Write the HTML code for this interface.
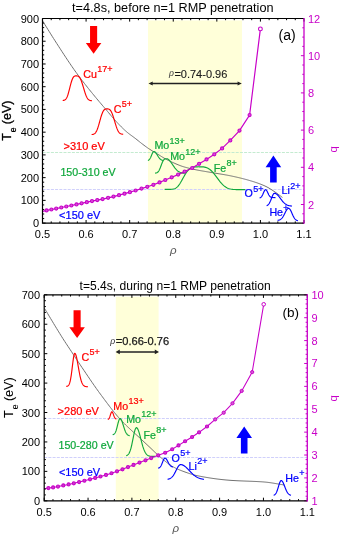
<!DOCTYPE html>
<html><head><meta charset="utf-8"><style>
html,body{margin:0;padding:0;background:#fff;width:342px;height:537px;overflow:hidden}
text{font-family:"Liberation Sans",sans-serif}
</style></head><body>
<svg width="342" height="537" viewBox="0 0 342 537" style="display:block;will-change:transform;font-family:'Liberation Sans',sans-serif">
<rect width="342" height="537" fill="#fff"/>
<rect x="148" y="20.4" width="94" height="202.7" fill="#ffffd9"/>
<path d="M42.5,152.5 H304" stroke="#c4ebd0" stroke-width="1" stroke-dasharray="3,1.2"/>
<path d="M42.5,189.5 H304" stroke="#d0d0fb" stroke-width="1" stroke-dasharray="3,1.2"/>
<path d="M42.5,20.8 L43.6,22.56 L44.7,24.32 L45.8,26.08 L46.9,27.84 L48,29.6 L49.11,31.38 L50.23,33.17 L51.34,34.95 L52.46,36.74 L53.57,38.51 L54.69,40.26 L55.8,42 L56.81,43.57 L57.83,45.14 L58.84,46.71 L59.86,48.28 L60.87,49.84 L61.89,51.41 L62.9,52.96 L63.91,54.52 L64.93,56.06 L65.94,57.6 L66.96,59.13 L67.97,60.66 L68.99,62.17 L70,63.67 L71.01,65.16 L72.03,66.64 L73.04,68.1 L74.06,69.55 L75.07,70.98 L76.09,72.4 L77.1,73.8 L78.13,75.2 L79.16,76.59 L80.19,77.96 L81.22,79.32 L82.25,80.66 L83.28,81.99 L84.31,83.31 L85.34,84.62 L86.36,85.92 L87.39,87.21 L88.42,88.5 L89.45,89.77 L90.48,91.05 L91.51,92.31 L92.54,93.58 L93.57,94.84 L94.6,96.1 L95.69,97.43 L96.78,98.74 L97.87,100.04 L98.96,101.33 L100.05,102.61 L101.14,103.89 L102.23,105.17 L103.32,106.44 L104.41,107.72 L105.5,109 L106.55,110.24 L107.6,111.5 L108.65,112.76 L109.7,114.03 L110.75,115.29 L111.8,116.53 L112.85,117.76 L113.9,118.97 L114.95,120.15 L116,121.3 L117.06,122.43 L118.12,123.56 L119.18,124.67 L120.24,125.76 L121.3,126.84 L122.36,127.89 L123.42,128.91 L124.48,129.91 L125.54,130.87 L126.6,131.8 L127.62,132.65 L128.64,133.47 L129.67,134.25 L130.69,135.01 L131.71,135.76 L132.73,136.51 L133.76,137.26 L134.78,138.02 L135.8,138.8 L136.98,139.73 L138.16,140.68 L139.34,141.63 L140.52,142.58 L141.7,143.5 L142.86,144.39 L144.02,145.27 L145.18,146.14 L146.34,146.98 L147.5,147.8 L148.68,148.6 L149.86,149.37 L151.04,150.12 L152.22,150.86 L153.4,151.6 L154.56,152.31 L155.72,153.01 L156.88,153.71 L158.04,154.4 L159.2,155.1 L160.38,155.83 L161.56,156.57 L162.74,157.31 L163.92,158.02 L165.1,158.7 L166.2,159.3 L167.3,159.87 L168.4,160.43 L169.5,160.97 L170.6,161.5 L171.7,162 L172.76,162.48 L173.83,162.95 L174.89,163.42 L175.95,163.89 L177.02,164.34 L178.08,164.78 L179.15,165.2 L180.21,165.61 L181.27,166 L182.34,166.36 L183.4,166.7 L184.46,167.02 L185.53,167.32 L186.59,167.61 L187.65,167.89 L188.72,168.16 L189.78,168.42 L190.85,168.67 L191.91,168.91 L192.97,169.15 L194.04,169.38 L195.1,169.6 L196.15,169.82 L197.2,170.03 L198.25,170.23 L199.3,170.43 L200.35,170.62 L201.4,170.81 L202.45,170.99 L203.5,171.17 L204.55,171.35 L205.6,171.53 L206.65,171.71 L207.7,171.88 L208.75,172.06 L209.8,172.24 L210.85,172.42 L211.9,172.6 L212.93,172.78 L213.96,172.95 L214.99,173.12 L216.02,173.29 L217.05,173.46 L218.08,173.63 L219.11,173.79 L220.14,173.96 L221.16,174.13 L222.19,174.3 L223.22,174.47 L224.25,174.65 L225.28,174.83 L226.31,175.01 L227.34,175.2 L228.37,175.4 L229.4,175.6 L230.41,175.8 L231.42,176.01 L232.43,176.23 L233.44,176.44 L234.45,176.66 L235.45,176.88 L236.46,177.11 L237.47,177.35 L238.48,177.58 L239.49,177.82 L240.5,178.07 L241.51,178.32 L242.52,178.57 L243.53,178.83 L244.54,179.1 L245.55,179.37 L246.55,179.64 L247.56,179.92 L248.57,180.21 L249.58,180.5 L250.59,180.8 L251.6,181.1 L252.63,181.41 L253.66,181.74 L254.69,182.07 L255.71,182.41 L256.74,182.76 L257.77,183.12 L258.8,183.49 L259.83,183.88 L260.86,184.28 L261.89,184.69 L262.91,185.12 L263.94,185.56 L264.97,186.02 L266,186.5 L267,187 L268,187.54 L269,188.11 L270,188.72 L271,189.35 L272,190 L273,190.66 L274,191.33 L275,192 L276.06,192.72 L277.11,193.48 L278.17,194.25 L279.23,195.04 L280.29,195.83 L281.34,196.62 L282.4,197.4" stroke="#707070" stroke-width="1" fill="none"/>
<g fill="none" stroke-width="1.15">
<path d="M62.7,100.46 L63.04,100.43 L63.37,100.39 L63.71,100.34 L64.04,100.26 L64.38,100.15 L64.71,100 L65.05,99.8 L65.38,99.54 L65.72,99.21 L66.05,98.8 L66.39,98.3 L66.72,97.7 L67.06,96.99 L67.39,96.18 L67.72,95.26 L68.06,94.23 L68.39,93.12 L68.73,91.92 L69.06,90.66 L69.4,89.35 L69.73,88.02 L70.07,86.68 L70.41,85.37 L70.74,84.1 L71.08,82.88 L71.41,81.75 L71.75,80.71 L72.08,79.77 L72.41,78.94 L72.75,78.22 L73.08,77.61 L73.42,77.12 L73.75,76.72 L74.09,76.42 L74.42,76.2 L74.76,76.06 L75.09,75.97 L75.43,75.92 L75.77,75.9 L76.1,75.9 L76.5,75.9 L76.89,75.92 L77.29,75.97 L77.69,76.06 L78.09,76.21 L78.48,76.43 L78.88,76.73 L79.28,77.13 L79.68,77.63 L80.07,78.25 L80.47,78.97 L80.87,79.81 L81.27,80.76 L81.66,81.82 L82.06,82.97 L82.46,84.2 L82.86,85.49 L83.25,86.82 L83.65,88.17 L84.05,89.52 L84.45,90.84 L84.84,92.12 L85.24,93.33 L85.64,94.46 L86.04,95.49 L86.44,96.42 L86.83,97.25 L87.23,97.96 L87.63,98.57 L88.03,99.08 L88.42,99.49 L88.82,99.83 L89.22,100.09 L89.61,100.29 L90.01,100.44 L90.41,100.55 L90.81,100.63 L91.2,100.69 L91.6,100.73 L92,100.76" stroke="#ff0000"/>
<path d="M91.6,134.55 L91.98,134.53 L92.37,134.49 L92.75,134.43 L93.14,134.35 L93.52,134.23 L93.91,134.07 L94.3,133.87 L94.68,133.6 L95.06,133.25 L95.45,132.82 L95.83,132.3 L96.22,131.67 L96.6,130.93 L96.99,130.08 L97.38,129.12 L97.76,128.05 L98.14,126.89 L98.53,125.64 L98.91,124.32 L99.3,122.95 L99.69,121.56 L100.07,120.17 L100.45,118.79 L100.84,117.46 L101.22,116.2 L101.61,115.01 L102,113.92 L102.38,112.94 L102.77,112.07 L103.15,111.32 L103.53,110.69 L103.92,110.17 L104.3,109.76 L104.69,109.44 L105.08,109.22 L105.46,109.06 L105.84,108.97 L106.23,108.92 L106.61,108.9 L107,108.9 L107.41,108.9 L107.81,108.92 L108.22,108.97 L108.62,109.06 L109.03,109.21 L109.43,109.44 L109.83,109.75 L110.24,110.15 L110.64,110.67 L111.05,111.29 L111.45,112.03 L111.86,112.89 L112.27,113.86 L112.67,114.94 L113.08,116.11 L113.48,117.36 L113.89,118.68 L114.29,120.04 L114.7,121.41 L115.1,122.79 L115.5,124.14 L115.91,125.44 L116.31,126.68 L116.72,127.83 L117.12,128.89 L117.53,129.84 L117.94,130.68 L118.34,131.4 L118.75,132.03 L119.15,132.54 L119.56,132.97 L119.96,133.31 L120.37,133.57 L120.77,133.78 L121.17,133.93 L121.58,134.05 L121.98,134.13 L122.39,134.19 L122.8,134.23 L123.2,134.25" stroke="#ff0000"/>
<path d="M147.9,160.48 L148.05,160.43 L148.2,160.36 L148.35,160.28 L148.5,160.2 L148.65,160.1 L148.8,159.99 L148.95,159.87 L149.1,159.73 L149.25,159.58 L149.4,159.41 L149.55,159.23 L149.7,159.02 L149.85,158.81 L150,158.57 L150.15,158.32 L150.3,158.05 L150.45,157.76 L150.6,157.45 L150.75,157.14 L150.9,156.81 L151.05,156.46 L151.2,156.11 L151.35,155.75 L151.5,155.38 L151.65,155.02 L151.8,154.65 L151.95,154.29 L152.1,153.94 L152.25,153.6 L152.4,153.27 L152.55,152.96 L152.7,152.68 L152.85,152.41 L153,152.18 L153.15,151.98 L153.3,151.81 L153.45,151.68 L153.6,151.58 L153.75,151.52 L153.9,151.5 L154.12,151.52 L154.35,151.58 L154.58,151.68 L154.8,151.81 L155.03,151.98 L155.25,152.18 L155.47,152.41 L155.7,152.68 L155.93,152.96 L156.15,153.27 L156.38,153.6 L156.6,153.94 L156.83,154.29 L157.05,154.65 L157.28,155.02 L157.5,155.38 L157.72,155.75 L157.95,156.11 L158.18,156.46 L158.4,156.81 L158.62,157.14 L158.85,157.45 L159.08,157.76 L159.3,158.05 L159.53,158.32 L159.75,158.57 L159.97,158.81 L160.2,159.02 L160.43,159.23 L160.65,159.41 L160.88,159.58 L161.1,159.73 L161.33,159.87 L161.55,159.99 L161.78,160.1 L162,160.2 L162.22,160.28 L162.45,160.36 L162.68,160.43 L162.9,160.48" stroke="#10a83c"/>
<path d="M155,173.07 L155.29,173.06 L155.57,173.03 L155.86,173 L156.15,172.95 L156.44,172.88 L156.72,172.79 L157.01,172.66 L157.3,172.51 L157.59,172.31 L157.88,172.06 L158.16,171.76 L158.45,171.4 L158.74,170.98 L159.03,170.5 L159.31,169.95 L159.6,169.35 L159.89,168.69 L160.18,167.99 L160.46,167.25 L160.75,166.49 L161.04,165.71 L161.32,164.94 L161.61,164.17 L161.9,163.43 L162.19,162.73 L162.47,162.08 L162.76,161.47 L163.05,160.93 L163.34,160.45 L163.62,160.04 L163.91,159.69 L164.2,159.4 L164.49,159.17 L164.78,159 L165.06,158.87 L165.35,158.79 L165.64,158.74 L165.93,158.71 L166.21,158.7 L166.5,158.7 L166.95,158.74 L167.4,158.87 L167.85,159.07 L168.3,159.35 L168.75,159.7 L169.2,160.13 L169.65,160.61 L170.1,161.14 L170.55,161.72 L171,162.33 L171.45,162.97 L171.9,163.63 L172.35,164.3 L172.8,164.97 L173.25,165.64 L173.7,166.3 L174.15,166.93 L174.6,167.55 L175.05,168.14 L175.5,168.7 L175.95,169.22 L176.4,169.71 L176.85,170.16 L177.3,170.57 L177.75,170.95 L178.2,171.29 L178.65,171.6 L179.1,171.87 L179.55,172.11 L180,172.32 L180.45,172.51 L180.9,172.67 L181.35,172.81 L181.8,172.93 L182.25,173.03 L182.7,173.11 L183.15,173.19 L183.6,173.25 L184.05,173.29 L184.5,173.34" stroke="#10a83c"/>
<path d="M164.7,189.4 L165.58,189.4 L166.46,189.4 L167.35,189.4 L168.23,189.4 L169.11,189.39 L170,189.37 L170.88,189.35 L171.76,189.29 L172.64,189.19 L173.52,189.03 L174.41,188.78 L175.29,188.41 L176.17,187.89 L177.06,187.19 L177.94,186.31 L178.82,185.23 L179.7,183.96 L180.58,182.54 L181.47,181 L182.35,179.39 L183.23,177.76 L184.12,176.16 L185,174.63 L185.88,173.21 L186.76,171.93 L187.64,170.81 L188.53,169.86 L189.41,169.06 L190.29,168.42 L191.18,167.92 L192.06,167.54 L192.94,167.27 L193.82,167.07 L194.7,166.95 L195.59,166.87 L196.47,166.83 L197.35,166.81 L198.24,166.8 L199.12,166.8 L200,166.8 L201.13,166.8 L202.26,166.83 L203.4,166.92 L204.53,167.08 L205.66,167.34 L206.8,167.72 L207.93,168.24 L209.06,168.91 L210.19,169.75 L211.32,170.75 L212.46,171.9 L213.59,173.18 L214.72,174.58 L215.86,176.07 L216.99,177.6 L218.12,179.13 L219.25,180.64 L220.38,182.08 L221.52,183.41 L222.65,184.62 L223.78,185.68 L224.92,186.59 L226.05,187.34 L227.18,187.95 L228.31,188.43 L229.44,188.79 L230.58,189.06 L231.71,189.25 L232.84,189.38 L233.98,189.47 L235.11,189.52 L236.24,189.56 L237.37,189.58 L238.5,189.59 L239.64,189.59 L240.77,189.6 L241.9,189.6 L243.04,189.6 L244.17,189.6 L245.3,189.6" stroke="#10a83c"/>
<path d="M259.6,197.98 L259.75,197.93 L259.9,197.88 L260.05,197.82 L260.2,197.76 L260.35,197.68 L260.5,197.59 L260.65,197.49 L260.8,197.38 L260.95,197.25 L261.1,197.11 L261.25,196.95 L261.4,196.78 L261.55,196.59 L261.7,196.38 L261.85,196.15 L262,195.91 L262.15,195.65 L262.3,195.38 L262.45,195.09 L262.6,194.78 L262.75,194.47 L262.9,194.14 L263.05,193.8 L263.2,193.46 L263.35,193.11 L263.5,192.76 L263.65,192.42 L263.8,192.08 L263.95,191.75 L264.1,191.43 L264.25,191.13 L264.4,190.85 L264.55,190.6 L264.7,190.37 L264.85,190.17 L265,190 L265.15,189.87 L265.3,189.78 L265.45,189.72 L265.6,189.7 L265.75,189.72 L265.9,189.77 L266.05,189.86 L266.2,189.98 L266.35,190.14 L266.5,190.32 L266.65,190.53 L266.8,190.77 L266.95,191.03 L267.1,191.31 L267.25,191.6 L267.4,191.91 L267.55,192.22 L267.7,192.55 L267.85,192.87 L268,193.19 L268.15,193.51 L268.3,193.82 L268.45,194.13 L268.6,194.42 L268.75,194.71 L268.9,194.98 L269.05,195.23 L269.2,195.47 L269.35,195.7 L269.5,195.91 L269.65,196.1 L269.8,196.28 L269.95,196.44 L270.1,196.58 L270.25,196.72 L270.4,196.83 L270.55,196.94 L270.7,197.03 L270.85,197.12 L271,197.19 L271.15,197.25 L271.3,197.31 L271.45,197.35 L271.6,197.39 L275.5,197.6" stroke="#0000ff"/>
<path d="M266.6,205.76 L266.8,205.68 L267,205.59 L267.19,205.48 L267.39,205.37 L267.59,205.23 L267.79,205.08 L267.98,204.91 L268.18,204.72 L268.38,204.51 L268.58,204.27 L268.77,204.02 L268.97,203.74 L269.17,203.43 L269.37,203.11 L269.56,202.76 L269.76,202.38 L269.96,201.98 L270.16,201.56 L270.35,201.12 L270.55,200.66 L270.75,200.18 L270.94,199.69 L271.14,199.19 L271.34,198.69 L271.54,198.18 L271.74,197.67 L271.93,197.17 L272.13,196.68 L272.33,196.21 L272.52,195.76 L272.72,195.33 L272.92,194.93 L273.12,194.57 L273.31,194.24 L273.51,193.96 L273.71,193.73 L273.91,193.54 L274.11,193.41 L274.3,193.33 L274.5,193.3 L274.94,193.34 L275.38,193.44 L275.81,193.62 L276.25,193.87 L276.69,194.18 L277.12,194.54 L277.56,194.96 L278,195.43 L278.44,195.93 L278.88,196.46 L279.31,197.02 L279.75,197.6 L280.19,198.18 L280.62,198.77 L281.06,199.35 L281.5,199.92 L281.94,200.48 L282.38,201.01 L282.81,201.53 L283.25,202.01 L283.69,202.47 L284.12,202.89 L284.56,203.29 L285,203.65 L285.44,203.98 L285.88,204.27 L286.31,204.54 L286.75,204.78 L287.19,204.99 L287.62,205.17 L288.06,205.34 L288.5,205.48 L288.94,205.6 L289.38,205.7 L289.81,205.79 L290.25,205.86 L290.69,205.93 L291.12,205.98 L291.56,206.02 L292,206.06" stroke="#0000ff"/>
<path d="M277.6,220.36 L277.88,220.33 L278.15,220.29 L278.43,220.24 L278.7,220.18 L278.98,220.11 L279.25,220.03 L279.53,219.93 L279.8,219.82 L280.08,219.68 L280.35,219.53 L280.62,219.35 L280.9,219.15 L281.18,218.93 L281.45,218.68 L281.73,218.4 L282,218.09 L282.28,217.74 L282.55,217.37 L282.83,216.97 L283.1,216.54 L283.38,216.08 L283.65,215.6 L283.93,215.09 L284.2,214.56 L284.48,214.02 L284.75,213.47 L285.03,212.92 L285.3,212.36 L285.58,211.82 L285.85,211.29 L286.12,210.79 L286.4,210.31 L286.68,209.87 L286.95,209.47 L287.23,209.13 L287.5,208.84 L287.78,208.6 L288.05,208.44 L288.33,208.33 L288.6,208.3 L288.84,208.33 L289.07,208.42 L289.31,208.58 L289.54,208.79 L289.78,209.05 L290.01,209.37 L290.25,209.74 L290.48,210.14 L290.72,210.59 L290.95,211.06 L291.19,211.56 L291.42,212.08 L291.66,212.61 L291.89,213.14 L292.12,213.68 L292.36,214.22 L292.6,214.74 L292.83,215.26 L293.06,215.76 L293.3,216.23 L293.54,216.69 L293.77,217.12 L294,217.53 L294.24,217.9 L294.48,218.25 L294.71,218.58 L294.94,218.87 L295.18,219.14 L295.42,219.38 L295.65,219.6 L295.88,219.79 L296.12,219.97 L296.36,220.12 L296.59,220.25 L296.82,220.37 L297.06,220.47 L297.3,220.56 L297.53,220.63 L297.76,220.69 L298,220.75" stroke="#0000ff"/>
</g>
<path d="M42.5,211.3 L46.6,210.4 L51.4,209.5 L56.2,208.6 L61.3,207.5 L66.3,206.5 L71.4,205.5 L76.5,204.4 L81.6,203.3 L86.8,202.2 L92,201.1 L97.3,200.1 L102.6,199.1 L108.1,197.8 L113.5,196.6 L119,195.2 L124.5,193.7 L129.9,192.2 L135.6,190.5 L141.5,188.6 L147.3,186.8 L153.4,184.8 L159.5,182.4 L165.3,180 L171.7,177.3 L178.1,174.6 L184.6,171.6 L192.2,168 L199.1,163.8 L206.5,159.4 L214.3,154.3 L222.1,148.4 L230.3,140.4 L239.5,130.6 L249.6,115.1 L260.4,28.9" stroke="#c800c8" stroke-width="1.2" fill="none"/>
<g fill="#d655d6" stroke="#c800c8" stroke-width="1.1">
<circle cx="46.6" cy="210.4" r="1.55"/>
<circle cx="51.4" cy="209.5" r="1.55"/>
<circle cx="56.2" cy="208.6" r="1.55"/>
<circle cx="61.3" cy="207.5" r="1.55"/>
<circle cx="66.3" cy="206.5" r="1.55"/>
<circle cx="71.4" cy="205.5" r="1.55"/>
<circle cx="76.5" cy="204.4" r="1.55"/>
<circle cx="81.6" cy="203.3" r="1.55"/>
<circle cx="86.8" cy="202.2" r="1.55"/>
<circle cx="92" cy="201.1" r="1.55"/>
<circle cx="97.3" cy="200.1" r="1.55"/>
<circle cx="102.6" cy="199.1" r="1.55"/>
<circle cx="108.1" cy="197.8" r="1.55"/>
<circle cx="113.5" cy="196.6" r="1.55"/>
<circle cx="119" cy="195.2" r="1.55"/>
<circle cx="124.5" cy="193.7" r="1.55"/>
<circle cx="129.9" cy="192.2" r="1.55"/>
<circle cx="135.6" cy="190.5" r="1.55"/>
<circle cx="141.5" cy="188.6" r="1.55"/>
<circle cx="147.3" cy="186.8" r="1.55"/>
<circle cx="153.4" cy="184.8" r="1.55"/>
<circle cx="159.5" cy="182.4" r="1.55"/>
<circle cx="165.3" cy="180" r="1.55"/>
<circle cx="171.7" cy="177.3" r="1.55"/>
<circle cx="178.1" cy="174.6" r="1.55"/>
<circle cx="184.6" cy="171.6" r="1.55"/>
<circle cx="192.2" cy="168" r="1.55"/>
<circle cx="199.1" cy="163.8" r="1.55"/>
<circle cx="206.5" cy="159.4" r="1.55"/>
<circle cx="214.3" cy="154.3" r="1.55"/>
<circle cx="222.1" cy="148.4" r="1.55"/>
<circle cx="230.3" cy="140.4" r="1.55"/>
<circle cx="239.5" cy="130.6" r="1.55"/>
<circle cx="249.6" cy="115.1" r="1.55"/>
</g>
<circle cx="260.4" cy="28.9" r="1.9" fill="#fff" stroke="#c800c8" stroke-width="1.1"/>
<path d="M90.05,26.1 h7.1 v17 h4.2 L93.6,53.8 L85.85,43.1 h4.2 Z" fill="#ff0000"/>
<path d="M273.4,155.6 L281.2,167.2 L276.7,167.2 L276.7,182.6 L270.1,182.6 L270.1,167.2 L265.6,167.2 Z" fill="#0000ff"/>
<path d="M151.5,83.5 H238.8" stroke="#222" stroke-width="1.3"/>
<path d="M148.5,83.5 l4.2,-2.1 v4.2 Z M241.8,83.5 l-4.2,-2.1 v4.2 Z" fill="#222"/>
<text x="169" y="77.8" font-size="11" fill="#222"><tspan font-family="Liberation Serif" font-style="italic" font-size="10.45" fill="#444" dy="-1.6">&#961;</tspan><tspan stroke="#111" stroke-width="0.12" dy="1.6" dx="0.4">=0.74-0.96</tspan></text>
<text x="83.2" y="78" font-size="10.7" fill="#ff0000" stroke="#ff0000" stroke-width="0.22">Cu<tspan font-size="9" dy="-5.6" dx="0.3">17+</tspan></text>
<text x="113.8" y="112.5" font-size="10.7" fill="#ff0000" stroke="#ff0000" stroke-width="0.22">C<tspan font-size="9" dy="-5.6" dx="0.3">5+</tspan></text>
<text x="154.4" y="149.3" font-size="10.7" fill="#10a83c" stroke="#10a83c" stroke-width="0.22">Mo<tspan font-size="9" dy="-5.6" dx="0.3">13+</tspan></text>
<text x="170.2" y="160.4" font-size="10.7" fill="#10a83c" stroke="#10a83c" stroke-width="0.22">Mo<tspan font-size="9" dy="-5.6" dx="0.3">12+</tspan></text>
<text x="213.7" y="171.7" font-size="10.7" fill="#10a83c" stroke="#10a83c" stroke-width="0.22">Fe<tspan font-size="9" dy="-5.6" dx="0.3">8+</tspan></text>
<text x="244.6" y="197.4" font-size="10.7" fill="#0000ff" stroke="#0000ff" stroke-width="0.22">O<tspan font-size="9" dy="-5.6" dx="0.3">5+</tspan></text>
<text x="281.5" y="194.1" font-size="10.7" fill="#0000ff" stroke="#0000ff" stroke-width="0.22">Li<tspan font-size="9" dy="-5.6" dx="0.3">2+</tspan></text>
<text x="269.4" y="216.3" font-size="10.7" fill="#0000ff" stroke="#0000ff" stroke-width="0.22">He<tspan font-size="9" dy="-5.6" dx="0.3">+</tspan></text>
<text x="63.5" y="149.7" font-size="11" fill="#ff0000" text-anchor="start" stroke="#ff0000" stroke-width="0.22">&gt;310 eV</text>
<text x="60.4" y="175.7" font-size="11" fill="#10a83c" text-anchor="start" textLength="55.3" lengthAdjust="spacingAndGlyphs" stroke="#10a83c" stroke-width="0.22">150-310 eV</text>
<text x="59.1" y="218.8" font-size="11" fill="#0000ff" text-anchor="start" stroke="#0000ff" stroke-width="0.22">&lt;150 eV</text>
<text x="278.6" y="40" font-size="14" fill="#000" text-anchor="start">(a)</text>
<path d="M42.5,223.1 v-3.1 M42.5,18.5 v3.1 M51.22,223.1 v-1.7 M51.22,18.5 v1.7 M59.93,223.1 v-1.7 M59.93,18.5 v1.7 M68.65,223.1 v-1.7 M68.65,18.5 v1.7 M77.37,223.1 v-1.7 M77.37,18.5 v1.7 M86.08,223.1 v-3.1 M86.08,18.5 v3.1 M94.8,223.1 v-1.7 M94.8,18.5 v1.7 M103.52,223.1 v-1.7 M103.52,18.5 v1.7 M112.23,223.1 v-1.7 M112.23,18.5 v1.7 M120.95,223.1 v-1.7 M120.95,18.5 v1.7 M129.67,223.1 v-3.1 M129.67,18.5 v3.1 M138.38,223.1 v-1.7 M138.38,18.5 v1.7 M147.1,223.1 v-1.7 M147.1,18.5 v1.7 M155.82,223.1 v-1.7 M155.82,18.5 v1.7 M164.53,223.1 v-1.7 M164.53,18.5 v1.7 M173.25,223.1 v-3.1 M173.25,18.5 v3.1 M181.97,223.1 v-1.7 M181.97,18.5 v1.7 M190.68,223.1 v-1.7 M190.68,18.5 v1.7 M199.4,223.1 v-1.7 M199.4,18.5 v1.7 M208.12,223.1 v-1.7 M208.12,18.5 v1.7 M216.83,223.1 v-3.1 M216.83,18.5 v3.1 M225.55,223.1 v-1.7 M225.55,18.5 v1.7 M234.27,223.1 v-1.7 M234.27,18.5 v1.7 M242.98,223.1 v-1.7 M242.98,18.5 v1.7 M251.7,223.1 v-1.7 M251.7,18.5 v1.7 M260.42,223.1 v-3.1 M260.42,18.5 v3.1 M269.13,223.1 v-1.7 M269.13,18.5 v1.7 M277.85,223.1 v-1.7 M277.85,18.5 v1.7 M286.57,223.1 v-1.7 M286.57,18.5 v1.7 M295.28,223.1 v-1.7 M295.28,18.5 v1.7 M304,223.1 v-3.1 M304,18.5 v3.1 M42.5,223.1 h3.1 M42.5,218.55 h1.7 M42.5,214.01 h1.7 M42.5,209.46 h1.7 M42.5,204.91 h1.7 M42.5,200.37 h3.1 M42.5,195.82 h1.7 M42.5,191.27 h1.7 M42.5,186.73 h1.7 M42.5,182.18 h1.7 M42.5,177.63 h3.1 M42.5,173.09 h1.7 M42.5,168.54 h1.7 M42.5,163.99 h1.7 M42.5,159.45 h1.7 M42.5,154.9 h3.1 M42.5,150.35 h1.7 M42.5,145.81 h1.7 M42.5,141.26 h1.7 M42.5,136.71 h1.7 M42.5,132.17 h3.1 M42.5,127.62 h1.7 M42.5,123.07 h1.7 M42.5,118.53 h1.7 M42.5,113.98 h1.7 M42.5,109.43 h3.1 M42.5,104.89 h1.7 M42.5,100.34 h1.7 M42.5,95.79 h1.7 M42.5,91.25 h1.7 M42.5,86.7 h3.1 M42.5,82.15 h1.7 M42.5,77.61 h1.7 M42.5,73.06 h1.7 M42.5,68.51 h1.7 M42.5,63.97 h3.1 M42.5,59.42 h1.7 M42.5,54.87 h1.7 M42.5,50.33 h1.7 M42.5,45.78 h1.7 M42.5,41.23 h3.1 M42.5,36.69 h1.7 M42.5,32.14 h1.7 M42.5,27.59 h1.7 M42.5,23.05 h1.7 M42.5,18.5 h3.1" stroke="#000" stroke-width="1" fill="none"/>
<path d="M304,223.1 h-1.7 M304,213.8 h-1.7 M304,204.5 h-3.1 M304,195.2 h-1.7 M304,185.9 h-1.7 M304,176.6 h-1.7 M304,167.3 h-3.1 M304,158 h-1.7 M304,148.7 h-1.7 M304,139.4 h-1.7 M304,130.1 h-3.1 M304,120.8 h-1.7 M304,111.5 h-1.7 M304,102.2 h-1.7 M304,92.9 h-3.1 M304,83.6 h-1.7 M304,74.3 h-1.7 M304,65 h-1.7 M304,55.7 h-3.1 M304,46.4 h-1.7 M304,37.1 h-1.7 M304,27.8 h-1.7 M304,18.5 h-3.1" stroke="#c800c8" stroke-width="1" fill="none"/>
<path d="M304,18.5 V18.5 H42.5" stroke="#000" stroke-width="1.2" fill="none"/>
<path d="M42.5,18.5 V223.1 H304" stroke="#000" stroke-width="1.2" fill="none"/>
<path d="M304,17.9 V223.7" stroke="#c800c8" stroke-width="1.3" fill="none"/>
<text x="39.1" y="227.1" font-size="11" fill="#000" text-anchor="end">0</text>
<text x="39.1" y="204.37" font-size="11" fill="#000" text-anchor="end">100</text>
<text x="39.1" y="181.63" font-size="11" fill="#000" text-anchor="end">200</text>
<text x="39.1" y="158.9" font-size="11" fill="#000" text-anchor="end">300</text>
<text x="39.1" y="136.17" font-size="11" fill="#000" text-anchor="end">400</text>
<text x="39.1" y="113.43" font-size="11" fill="#000" text-anchor="end">500</text>
<text x="39.1" y="90.7" font-size="11" fill="#000" text-anchor="end">600</text>
<text x="39.1" y="67.97" font-size="11" fill="#000" text-anchor="end">700</text>
<text x="39.1" y="45.23" font-size="11" fill="#000" text-anchor="end">800</text>
<text x="39.1" y="22.5" font-size="11" fill="#000" text-anchor="end">900</text>
<text x="308" y="208.5" font-size="11" fill="#c800c8" text-anchor="start">2</text>
<text x="308" y="171.3" font-size="11" fill="#c800c8" text-anchor="start">4</text>
<text x="308" y="134.1" font-size="11" fill="#c800c8" text-anchor="start">6</text>
<text x="308" y="96.9" font-size="11" fill="#c800c8" text-anchor="start">8</text>
<text x="308" y="59.7" font-size="11" fill="#c800c8" text-anchor="start">10</text>
<text x="308" y="22.5" font-size="11" fill="#c800c8" text-anchor="start">12</text>
<text x="42.5" y="238.2" font-size="11" fill="#000" text-anchor="middle">0.5</text>
<text x="86.08" y="238.2" font-size="11" fill="#000" text-anchor="middle">0.6</text>
<text x="129.67" y="238.2" font-size="11" fill="#000" text-anchor="middle">0.7</text>
<text x="173.25" y="238.2" font-size="11" fill="#000" text-anchor="middle">0.8</text>
<text x="216.83" y="238.2" font-size="11" fill="#000" text-anchor="middle">0.9</text>
<text x="260.42" y="238.2" font-size="11" fill="#000" text-anchor="middle">1.0</text>
<text x="304" y="238.2" font-size="11" fill="#000" text-anchor="middle">1.1</text>
<text x="72.1" y="11.8" font-size="12.5" fill="#000" text-anchor="start" textLength="201.4" lengthAdjust="spacingAndGlyphs">t=4.8s, before n=1 RMP penetration</text>
<text transform="translate(10.7,140.8) rotate(-90)" font-size="12.5" fill="#000" stroke="#000" stroke-width="0.3">T<tspan font-size="8.5" dy="4.8" dx="0.8">e</tspan><tspan dy="-4.8"> (eV)</tspan></text>
<text transform="translate(336.6,149.2) rotate(-90)" font-size="11.5" fill="#c800c8" text-anchor="middle">q</text>
<text x="173.2" y="253.6" font-size="11.5" fill="#555" text-anchor="middle" font-family="Liberation Serif" font-style="italic">&#961;</text>
<rect x="115.8" y="296.7" width="42.8" height="204.1" fill="#ffffd9"/>
<path d="M44.2,418.5 H307.3" stroke="#d0d0fb" stroke-width="1" stroke-dasharray="3,1.2"/>
<path d="M44.2,457.5 H307.3" stroke="#d0d0fb" stroke-width="1" stroke-dasharray="3,1.2"/>
<path d="M44.5,308.4 L45.52,310.07 L46.53,311.74 L47.55,313.42 L48.56,315.1 L49.58,316.79 L50.59,318.48 L51.61,320.16 L52.63,321.85 L53.64,323.54 L54.66,325.22 L55.67,326.89 L56.69,328.57 L57.71,330.23 L58.72,331.89 L59.74,333.53 L60.75,335.17 L61.77,336.79 L62.78,338.4 L63.8,340 L64.87,341.65 L65.93,343.28 L67,344.89 L68.07,346.49 L69.13,348.09 L70.2,349.7 L71.27,351.32 L72.35,352.95 L73.42,354.58 L74.49,356.21 L75.56,357.84 L76.64,359.46 L77.71,361.08 L78.78,362.7 L79.85,364.31 L80.93,365.91 L82,367.5 L83.02,369.01 L84.04,370.53 L85.07,372.04 L86.09,373.56 L87.11,375.07 L88.13,376.58 L89.16,378.09 L90.18,379.59 L91.2,381.09 L92.22,382.58 L93.24,384.06 L94.27,385.53 L95.29,386.99 L96.31,388.44 L97.33,389.88 L98.36,391.3 L99.38,392.71 L100.4,394.1 L101.41,395.46 L102.41,396.82 L103.42,398.18 L104.42,399.53 L105.43,400.88 L106.43,402.23 L107.44,403.56 L108.44,404.89 L109.45,406.21 L110.45,407.52 L111.45,408.81 L112.46,410.09 L113.47,411.35 L114.47,412.59 L115.47,413.82 L116.48,415.02 L117.48,416.2 L118.49,417.36 L119.5,418.49 L120.5,419.6 L121.52,420.7 L122.54,421.77 L123.56,422.82 L124.58,423.84 L125.6,424.85 L126.62,425.84 L127.64,426.82 L128.66,427.78 L129.68,428.73 L130.7,429.67 L131.72,430.61 L132.74,431.54 L133.76,432.46 L134.78,433.38 L135.8,434.31 L136.82,435.23 L137.84,436.16 L138.86,437.1 L139.88,438.05 L140.9,439 L141.91,439.95 L142.92,440.9 L143.93,441.84 L144.94,442.78 L145.96,443.72 L146.97,444.66 L147.98,445.61 L148.99,446.55 L150,447.5 L151.04,448.49 L152.09,449.5 L153.13,450.51 L154.17,451.52 L155.21,452.51 L156.26,453.47 L157.3,454.4 L158.31,455.28 L159.31,456.16 L160.32,457.04 L161.33,457.92 L162.33,458.79 L163.34,459.66 L164.34,460.51 L165.35,461.34 L166.36,462.16 L167.36,462.95 L168.37,463.71 L169.38,464.45 L170.38,465.14 L171.39,465.81 L172.39,466.43 L173.4,467 L174.45,467.56 L175.51,468.1 L176.56,468.6 L177.62,469.09 L178.67,469.55 L179.73,469.99 L180.78,470.42 L181.84,470.83 L182.89,471.23 L183.95,471.62 L185,472 L186.07,472.38 L187.15,472.76 L188.22,473.13 L189.29,473.5 L190.36,473.85 L191.44,474.19 L192.51,474.52 L193.58,474.82 L194.65,475.11 L195.73,475.37 L196.8,475.6 L197.81,475.8 L198.81,476.01 L199.82,476.2 L200.82,476.4 L201.83,476.59 L202.84,476.77 L203.84,476.96 L204.85,477.13 L205.85,477.31 L206.86,477.48 L207.87,477.65 L208.87,477.81 L209.88,477.97 L210.88,478.12 L211.89,478.28 L212.9,478.42 L213.9,478.57 L214.91,478.71 L215.92,478.84 L216.92,478.97 L217.93,479.1 L218.93,479.22 L219.94,479.34 L220.95,479.46 L221.95,479.57 L222.96,479.67 L223.96,479.78 L224.97,479.87 L225.98,479.97 L226.98,480.06 L227.99,480.14 L228.99,480.22 L230,480.3 L231.01,480.37 L232.01,480.44 L233.02,480.5 L234.02,480.56 L235.03,480.62 L236.04,480.67 L237.04,480.72 L238.05,480.77 L239.05,480.82 L240.06,480.86 L241.06,480.9 L242.07,480.94 L243.08,480.98 L244.08,481.02 L245.09,481.06 L246.09,481.1 L247.1,481.13 L248.11,481.17 L249.11,481.21 L250.12,481.24 L251.12,481.28 L252.13,481.32 L253.14,481.37 L254.14,481.41 L255.15,481.45 L256.15,481.5 L257.16,481.55 L258.16,481.61 L259.17,481.66 L260.18,481.72 L261.18,481.78 L262.19,481.85 L263.19,481.92 L264.2,482 L265.2,482.09 L266.21,482.18 L267.21,482.29 L268.22,482.42 L269.23,482.55 L270.23,482.69 L271.24,482.84 L272.24,482.99 L273.25,483.15 L274.25,483.32 L275.25,483.49 L276.26,483.66 L277.26,483.84 L278.27,484.01 L279.27,484.18 L280.28,484.35 L281.29,484.52 L282.29,484.69 L283.3,484.85 L284.3,485" stroke="#707070" stroke-width="1" fill="none"/>
<g fill="none" stroke-width="1.15">
<path d="M66.3,386.43 L66.51,386.4 L66.72,386.37 L66.94,386.32 L67.15,386.27 L67.36,386.2 L67.58,386.1 L67.79,385.99 L68,385.84 L68.21,385.66 L68.42,385.44 L68.64,385.18 L68.85,384.85 L69.06,384.47 L69.27,384.01 L69.49,383.47 L69.7,382.85 L69.91,382.13 L70.12,381.31 L70.34,380.38 L70.55,379.34 L70.76,378.19 L70.97,376.92 L71.19,375.55 L71.4,374.08 L71.61,372.51 L71.83,370.87 L72.04,369.17 L72.25,367.43 L72.46,365.67 L72.67,363.93 L72.89,362.22 L73.1,360.59 L73.31,359.06 L73.52,357.66 L73.74,356.42 L73.95,355.37 L74.16,354.52 L74.38,353.9 L74.59,353.53 L74.8,353.4 L75.13,353.55 L75.46,354 L75.79,354.73 L76.12,355.73 L76.45,356.96 L76.78,358.41 L77.11,360.03 L77.44,361.78 L77.77,363.63 L78.1,365.53 L78.43,367.45 L78.76,369.36 L79.09,371.22 L79.42,373.01 L79.75,374.7 L80.08,376.28 L80.41,377.73 L80.74,379.06 L81.07,380.25 L81.4,381.31 L81.73,382.23 L82.06,383.04 L82.39,383.73 L82.72,384.32 L83.05,384.81 L83.38,385.22 L83.71,385.56 L84.04,385.83 L84.37,386.05 L84.7,386.22 L85.03,386.36 L85.36,386.47 L85.69,386.55 L86.02,386.62 L86.35,386.67 L86.68,386.7 L87.01,386.73 L87.34,386.75 L87.67,386.77 L88,386.78" stroke="#ff0000"/>
<path d="M107.8,419.45 L107.9,419.41 L108,419.37 L108.11,419.33 L108.21,419.27 L108.31,419.21 L108.41,419.14 L108.52,419.06 L108.62,418.97 L108.72,418.86 L108.83,418.74 L108.93,418.61 L109.03,418.46 L109.13,418.29 L109.23,418.11 L109.34,417.91 L109.44,417.7 L109.54,417.47 L109.64,417.22 L109.75,416.95 L109.85,416.67 L109.95,416.38 L110.06,416.07 L110.16,415.76 L110.26,415.43 L110.36,415.11 L110.47,414.77 L110.57,414.44 L110.67,414.12 L110.77,413.8 L110.88,413.49 L110.98,413.2 L111.08,412.93 L111.18,412.68 L111.29,412.46 L111.39,412.26 L111.49,412.1 L111.59,411.97 L111.7,411.88 L111.8,411.82 L111.9,411.8 L112.01,411.82 L112.12,411.87 L112.24,411.96 L112.35,412.08 L112.46,412.24 L112.58,412.42 L112.69,412.64 L112.8,412.87 L112.91,413.13 L113.03,413.41 L113.14,413.7 L113.25,414 L113.36,414.31 L113.48,414.62 L113.59,414.94 L113.7,415.25 L113.81,415.55 L113.93,415.85 L114.04,416.14 L114.15,416.42 L114.26,416.69 L114.38,416.94 L114.49,417.18 L114.6,417.4 L114.71,417.6 L114.83,417.79 L114.94,417.96 L115.05,418.12 L115.16,418.26 L115.28,418.38 L115.39,418.5 L115.5,418.6 L115.61,418.69 L115.73,418.76 L115.84,418.83 L115.95,418.89 L116.06,418.94 L116.18,418.98 L116.29,419.02 L116.4,419.05" stroke="#ff0000"/>
<path d="M112.7,434.72 L112.89,434.67 L113.07,434.62 L113.25,434.55 L113.44,434.47 L113.62,434.38 L113.81,434.26 L114,434.13 L114.18,433.98 L114.36,433.8 L114.55,433.6 L114.73,433.36 L114.92,433.09 L115.11,432.79 L115.29,432.45 L115.47,432.07 L115.66,431.65 L115.84,431.2 L116.03,430.7 L116.22,430.16 L116.4,429.58 L116.58,428.96 L116.77,428.31 L116.95,427.62 L117.14,426.92 L117.33,426.19 L117.51,425.45 L117.69,424.7 L117.88,423.96 L118.06,423.23 L118.25,422.52 L118.44,421.84 L118.62,421.2 L118.8,420.61 L118.99,420.08 L119.17,419.61 L119.36,419.22 L119.54,418.91 L119.73,418.68 L119.91,418.55 L120.1,418.5 L120.34,418.55 L120.58,418.69 L120.82,418.93 L121.06,419.27 L121.3,419.68 L121.54,420.18 L121.78,420.74 L122.02,421.37 L122.26,422.04 L122.5,422.77 L122.74,423.52 L122.98,424.29 L123.22,425.08 L123.46,425.87 L123.7,426.66 L123.94,427.43 L124.18,428.18 L124.42,428.9 L124.66,429.6 L124.9,430.25 L125.14,430.87 L125.38,431.44 L125.62,431.97 L125.86,432.46 L126.1,432.9 L126.34,433.3 L126.58,433.66 L126.82,433.98 L127.06,434.27 L127.3,434.52 L127.54,434.73 L127.78,434.92 L128.02,435.09 L128.26,435.23 L128.5,435.35 L128.74,435.45 L128.98,435.53 L129.22,435.6 L129.46,435.66 L129.7,435.71" stroke="#10a83c"/>
<path d="M126.2,455.69 L126.45,455.61 L126.71,455.51 L126.97,455.4 L127.22,455.26 L127.48,455.1 L127.73,454.9 L127.98,454.68 L128.24,454.41 L128.5,454.1 L128.75,453.75 L129,453.34 L129.26,452.88 L129.52,452.36 L129.77,451.77 L130.03,451.12 L130.28,450.4 L130.53,449.61 L130.79,448.75 L131.05,447.81 L131.3,446.81 L131.56,445.75 L131.81,444.62 L132.06,443.45 L132.32,442.22 L132.58,440.97 L132.83,439.69 L133.09,438.41 L133.34,437.12 L133.59,435.86 L133.85,434.64 L134.11,433.47 L134.36,432.36 L134.62,431.34 L134.87,430.43 L135.12,429.62 L135.38,428.95 L135.63,428.41 L135.89,428.02 L136.15,427.78 L136.4,427.7 L136.87,427.86 L137.33,428.33 L137.8,429.09 L138.26,430.12 L138.72,431.39 L139.19,432.87 L139.66,434.49 L140.12,436.23 L140.59,438.04 L141.05,439.86 L141.52,441.67 L141.98,443.42 L142.44,445.09 L142.91,446.66 L143.38,448.1 L143.84,449.4 L144.31,450.57 L144.77,451.59 L145.24,452.48 L145.7,453.24 L146.16,453.88 L146.63,454.41 L147.09,454.85 L147.56,455.2 L148.03,455.48 L148.49,455.71 L148.96,455.88 L149.42,456.02 L149.88,456.12 L150.35,456.2 L150.81,456.26 L151.28,456.3 L151.75,456.33 L152.21,456.35 L152.68,456.37 L153.14,456.38 L153.6,456.38 L154.07,456.39 L154.53,456.39 L155,456.4" stroke="#10a83c"/>
<path d="M158.2,468.2 L158.37,468.15 L158.54,468.1 L158.71,468.04 L158.88,467.97 L159.05,467.89 L159.22,467.79 L159.39,467.69 L159.56,467.56 L159.73,467.42 L159.9,467.26 L160.07,467.09 L160.24,466.89 L160.41,466.67 L160.58,466.43 L160.75,466.17 L160.92,465.89 L161.09,465.58 L161.26,465.25 L161.43,464.9 L161.6,464.53 L161.77,464.15 L161.94,463.74 L162.11,463.33 L162.28,462.9 L162.45,462.46 L162.62,462.03 L162.79,461.59 L162.96,461.16 L163.13,460.74 L163.3,460.34 L163.47,459.95 L163.64,459.59 L163.81,459.27 L163.98,458.97 L164.15,458.71 L164.32,458.5 L164.49,458.32 L164.66,458.2 L164.83,458.13 L165,458.1 L165.2,458.12 L165.4,458.19 L165.6,458.3 L165.8,458.45 L166,458.64 L166.2,458.87 L166.4,459.13 L166.6,459.42 L166.8,459.74 L167,460.08 L167.2,460.43 L167.4,460.81 L167.6,461.19 L167.8,461.57 L168,461.96 L168.2,462.34 L168.4,462.72 L168.6,463.09 L168.8,463.44 L169,463.78 L169.2,464.11 L169.4,464.42 L169.6,464.71 L169.8,464.98 L170,465.23 L170.2,465.46 L170.4,465.67 L170.6,465.87 L170.8,466.04 L171,466.2 L171.2,466.34 L171.4,466.46 L171.6,466.57 L171.8,466.66 L172,466.75 L172.2,466.82 L172.4,466.88 L172.6,466.94 L172.8,466.98 L173,467.02" stroke="#0000ff"/>
<path d="M167.5,479.28 L167.83,479.23 L168.16,479.17 L168.48,479.09 L168.81,479.01 L169.14,478.9 L169.47,478.79 L169.79,478.65 L170.12,478.49 L170.45,478.31 L170.78,478.1 L171.1,477.87 L171.43,477.6 L171.76,477.31 L172.09,476.98 L172.41,476.62 L172.74,476.22 L173.07,475.79 L173.4,475.32 L173.72,474.82 L174.05,474.29 L174.38,473.73 L174.7,473.14 L175.03,472.53 L175.36,471.9 L175.69,471.25 L176.01,470.6 L176.34,469.94 L176.67,469.29 L177,468.66 L177.32,468.04 L177.65,467.46 L177.98,466.91 L178.31,466.4 L178.63,465.95 L178.96,465.55 L179.29,465.21 L179.62,464.95 L179.94,464.76 L180.27,464.64 L180.6,464.6 L181.19,464.63 L181.77,464.74 L182.35,464.91 L182.94,465.14 L183.53,465.44 L184.11,465.79 L184.69,466.19 L185.28,466.65 L185.87,467.14 L186.45,467.68 L187.03,468.24 L187.62,468.82 L188.2,469.43 L188.79,470.04 L189.38,470.66 L189.96,471.27 L190.54,471.88 L191.13,472.48 L191.72,473.07 L192.3,473.63 L192.88,474.17 L193.47,474.69 L194.06,475.18 L194.64,475.63 L195.22,476.06 L195.81,476.46 L196.4,476.83 L196.98,477.17 L197.56,477.48 L198.15,477.76 L198.74,478.01 L199.32,478.23 L199.91,478.44 L200.49,478.62 L201.07,478.77 L201.66,478.91 L202.25,479.03 L202.83,479.14 L203.41,479.23 L204,479.31" stroke="#0000ff"/>
<path d="M273.6,495.3 L273.79,495.24 L273.98,495.16 L274.17,495.08 L274.36,494.97 L274.55,494.85 L274.74,494.72 L274.93,494.56 L275.12,494.38 L275.31,494.18 L275.5,493.95 L275.69,493.69 L275.88,493.4 L276.07,493.09 L276.26,492.74 L276.45,492.36 L276.64,491.94 L276.83,491.5 L277.02,491.02 L277.21,490.51 L277.4,489.97 L277.59,489.41 L277.78,488.82 L277.97,488.21 L278.16,487.59 L278.35,486.96 L278.54,486.32 L278.73,485.69 L278.92,485.06 L279.11,484.45 L279.3,483.86 L279.49,483.3 L279.68,482.78 L279.87,482.3 L280.06,481.87 L280.25,481.49 L280.44,481.18 L280.63,480.93 L280.82,480.75 L281.01,480.64 L281.2,480.6 L281.44,480.64 L281.69,480.75 L281.94,480.93 L282.18,481.18 L282.43,481.49 L282.67,481.87 L282.91,482.3 L283.16,482.78 L283.4,483.3 L283.65,483.86 L283.89,484.45 L284.14,485.06 L284.38,485.69 L284.63,486.32 L284.88,486.96 L285.12,487.59 L285.37,488.21 L285.61,488.82 L285.86,489.41 L286.1,489.97 L286.34,490.51 L286.59,491.02 L286.83,491.5 L287.08,491.94 L287.32,492.36 L287.57,492.74 L287.81,493.09 L288.06,493.4 L288.31,493.69 L288.55,493.95 L288.8,494.18 L289.04,494.38 L289.29,494.56 L289.53,494.72 L289.77,494.85 L290.02,494.97 L290.26,495.08 L290.51,495.16 L290.75,495.24 L291,495.3" stroke="#0000ff"/>
</g>
<path d="M44.2,488.8 L48.4,488.1 L53.1,487.4 L58,486.6 L63.3,485.4 L68.6,484.4 L73.8,483.3 L79.1,482.1 L84.4,480.7 L90,479.3 L95.2,477.9 L100.5,476.5 L106,474.9 L111.5,473.2 L117,471.3 L122.5,469.3 L128,467.1 L133.5,464.9 L139.5,462.6 L145.5,460.3 L151.2,458.1 L158.2,455.3 L165.2,452.7 L172.2,449.2 L178.5,445.4 L185.1,441.2 L192.1,437 L199.1,432.3 L207,426.5 L215.2,419.4 L223.7,412.7 L232.5,403.3 L241.7,390.9 L252.2,372.1 L263.7,304.3" stroke="#c800c8" stroke-width="1.05" fill="none"/>
<g fill="#c800c8">
<circle cx="48.4" cy="488.1" r="1.55" fill="#cc3acc" stroke="#c800c8" stroke-width="1.05"/>
<circle cx="53.1" cy="487.4" r="1.55" fill="#cc3acc" stroke="#c800c8" stroke-width="1.05"/>
<circle cx="58" cy="486.6" r="1.55" fill="#cc3acc" stroke="#c800c8" stroke-width="1.05"/>
<circle cx="63.3" cy="485.4" r="1.55" fill="#cc3acc" stroke="#c800c8" stroke-width="1.05"/>
<circle cx="68.6" cy="484.4" r="1.55" fill="#cc3acc" stroke="#c800c8" stroke-width="1.05"/>
<circle cx="73.8" cy="483.3" r="1.55" fill="#cc3acc" stroke="#c800c8" stroke-width="1.05"/>
<circle cx="79.1" cy="482.1" r="1.55" fill="#cc3acc" stroke="#c800c8" stroke-width="1.05"/>
<circle cx="84.4" cy="480.7" r="1.55" fill="#cc3acc" stroke="#c800c8" stroke-width="1.05"/>
<circle cx="90" cy="479.3" r="1.55" fill="#cc3acc" stroke="#c800c8" stroke-width="1.05"/>
<circle cx="95.2" cy="477.9" r="1.55" fill="#cc3acc" stroke="#c800c8" stroke-width="1.05"/>
<circle cx="100.5" cy="476.5" r="1.55" fill="#cc3acc" stroke="#c800c8" stroke-width="1.05"/>
<circle cx="106" cy="474.9" r="1.55" fill="#cc3acc" stroke="#c800c8" stroke-width="1.05"/>
<circle cx="111.5" cy="473.2" r="1.55" fill="#cc3acc" stroke="#c800c8" stroke-width="1.05"/>
<circle cx="117" cy="471.3" r="1.55" fill="#cc3acc" stroke="#c800c8" stroke-width="1.05"/>
<circle cx="122.5" cy="469.3" r="1.55" fill="#cc3acc" stroke="#c800c8" stroke-width="1.05"/>
<circle cx="128" cy="467.1" r="1.55" fill="#cc3acc" stroke="#c800c8" stroke-width="1.05"/>
<circle cx="133.5" cy="464.9" r="1.55" fill="#cc3acc" stroke="#c800c8" stroke-width="1.05"/>
<circle cx="139.5" cy="462.6" r="1.55" fill="#cc3acc" stroke="#c800c8" stroke-width="1.05"/>
<circle cx="145.5" cy="460.3" r="1.55" fill="#cc3acc" stroke="#c800c8" stroke-width="1.05"/>
<circle cx="151.2" cy="458.1" r="1.55" fill="#cc3acc" stroke="#c800c8" stroke-width="1.05"/>
<circle cx="158.2" cy="455.3" r="1.55" fill="#cc3acc" stroke="#c800c8" stroke-width="1.05"/>
<circle cx="165.2" cy="452.7" r="1.55" fill="#cc3acc" stroke="#c800c8" stroke-width="1.05"/>
<circle cx="172.2" cy="449.2" r="1.55" fill="#cc3acc" stroke="#c800c8" stroke-width="1.05"/>
<circle cx="178.5" cy="445.4" r="1.55" fill="#cc3acc" stroke="#c800c8" stroke-width="1.05"/>
<circle cx="185.1" cy="441.2" r="1.55" fill="#cc3acc" stroke="#c800c8" stroke-width="1.05"/>
<circle cx="192.1" cy="437" r="1.55" fill="#cc3acc" stroke="#c800c8" stroke-width="1.05"/>
<circle cx="199.1" cy="432.3" r="1.55" fill="#cc3acc" stroke="#c800c8" stroke-width="1.05"/>
<circle cx="207" cy="426.5" r="1.55" fill="#cc3acc" stroke="#c800c8" stroke-width="1.05"/>
</g>
<circle cx="215.2" cy="419.4" r="1.6" fill="#d45ad4" stroke="#c800c8" stroke-width="1"/>
<circle cx="223.7" cy="412.7" r="1.6" fill="#d45ad4" stroke="#c800c8" stroke-width="1"/>
<circle cx="232.5" cy="403.3" r="1.6" fill="#d45ad4" stroke="#c800c8" stroke-width="1"/>
<circle cx="241.7" cy="390.9" r="1.6" fill="#d45ad4" stroke="#c800c8" stroke-width="1"/>
<circle cx="252.2" cy="372.1" r="1.6" fill="#d45ad4" stroke="#c800c8" stroke-width="1"/>
<circle cx="263.7" cy="304.3" r="1.8" fill="#fff" stroke="#c800c8" stroke-width="1"/>
<path d="M73.55,310.2 h7.1 v17 h4.2 L77.1,337.9 L69.35,327.2 h4.2 Z" fill="#ff0000"/>
<path d="M244.2,426.4 L252,438 L247.5,438 L247.5,453.4 L240.9,453.4 L240.9,438 L236.4,438 Z" fill="#0000ff"/>
<path d="M118.6,351.9 H156" stroke="#222" stroke-width="1.5"/>
<path d="M115.6,351.9 l4.2,-2.3 v4.6 Z M159,351.9 l-4.2,-2.3 v4.6 Z" fill="#222"/>
<text x="110.3" y="345.1" font-size="11.1" fill="#222"><tspan font-family="Liberation Serif" font-style="italic" font-size="10.54" fill="#444" dy="-1.6">&#961;</tspan><tspan stroke="#111" stroke-width="0.25" dy="1.6" dx="0.4">=0.66-0.76</tspan></text>
<text x="81.4" y="360.5" font-size="10.7" fill="#ff0000" stroke="#ff0000" stroke-width="0.22">C<tspan font-size="9" dy="-5.6" dx="0.3">5+</tspan></text>
<text x="113.3" y="409.7" font-size="10.7" fill="#ff0000" stroke="#ff0000" stroke-width="0.22">Mo<tspan font-size="9" dy="-5.6" dx="0.3">13+</tspan></text>
<text x="126.2" y="422.6" font-size="10.7" fill="#10a83c" stroke="#10a83c" stroke-width="0.22">Mo<tspan font-size="9" dy="-5.6" dx="0.3">12+</tspan></text>
<text x="143.4" y="439" font-size="10.7" fill="#10a83c" stroke="#10a83c" stroke-width="0.22">Fe<tspan font-size="9" dy="-5.6" dx="0.3">8+</tspan></text>
<text x="171.5" y="461.6" font-size="10.7" fill="#0000ff" stroke="#0000ff" stroke-width="0.22">O<tspan font-size="9" dy="-5.6" dx="0.3">5+</tspan></text>
<text x="188.6" y="469.8" font-size="10.7" fill="#0000ff" stroke="#0000ff" stroke-width="0.22">Li<tspan font-size="9" dy="-5.6" dx="0.3">2+</tspan></text>
<text x="285.2" y="482" font-size="10.7" fill="#0000ff" stroke="#0000ff" stroke-width="0.22">He<tspan font-size="9" dy="-5.6" dx="0.3">+</tspan></text>
<text x="57.6" y="415" font-size="11" fill="#ff0000" text-anchor="start" stroke="#ff0000" stroke-width="0.22">&gt;280 eV</text>
<text x="58.5" y="449.4" font-size="11" fill="#10a83c" text-anchor="start" textLength="55.2" lengthAdjust="spacingAndGlyphs" stroke="#10a83c" stroke-width="0.22">150-280 eV</text>
<text x="58.9" y="476" font-size="11" fill="#0000ff" text-anchor="start" stroke="#0000ff" stroke-width="0.22">&lt;150 eV</text>
<text x="282.4" y="317.3" font-size="13.5" fill="#000" text-anchor="start">(b)</text>
<path d="M44.2,500.8 v-3.1 M44.2,294.8 v3.1 M52.97,500.8 v-1.7 M52.97,294.8 v1.7 M61.74,500.8 v-1.7 M61.74,294.8 v1.7 M70.51,500.8 v-1.7 M70.51,294.8 v1.7 M79.28,500.8 v-1.7 M79.28,294.8 v1.7 M88.05,500.8 v-3.1 M88.05,294.8 v3.1 M96.82,500.8 v-1.7 M96.82,294.8 v1.7 M105.59,500.8 v-1.7 M105.59,294.8 v1.7 M114.36,500.8 v-1.7 M114.36,294.8 v1.7 M123.13,500.8 v-1.7 M123.13,294.8 v1.7 M131.9,500.8 v-3.1 M131.9,294.8 v3.1 M140.67,500.8 v-1.7 M140.67,294.8 v1.7 M149.44,500.8 v-1.7 M149.44,294.8 v1.7 M158.21,500.8 v-1.7 M158.21,294.8 v1.7 M166.98,500.8 v-1.7 M166.98,294.8 v1.7 M175.75,500.8 v-3.1 M175.75,294.8 v3.1 M184.52,500.8 v-1.7 M184.52,294.8 v1.7 M193.29,500.8 v-1.7 M193.29,294.8 v1.7 M202.06,500.8 v-1.7 M202.06,294.8 v1.7 M210.83,500.8 v-1.7 M210.83,294.8 v1.7 M219.6,500.8 v-3.1 M219.6,294.8 v3.1 M228.37,500.8 v-1.7 M228.37,294.8 v1.7 M237.14,500.8 v-1.7 M237.14,294.8 v1.7 M245.91,500.8 v-1.7 M245.91,294.8 v1.7 M254.68,500.8 v-1.7 M254.68,294.8 v1.7 M263.45,500.8 v-3.1 M263.45,294.8 v3.1 M272.22,500.8 v-1.7 M272.22,294.8 v1.7 M280.99,500.8 v-1.7 M280.99,294.8 v1.7 M289.76,500.8 v-1.7 M289.76,294.8 v1.7 M298.53,500.8 v-1.7 M298.53,294.8 v1.7 M307.3,500.8 v-3.1 M307.3,294.8 v3.1 M44.2,500.8 h3.1 M44.2,494.91 h1.7 M44.2,489.03 h1.7 M44.2,483.14 h1.7 M44.2,477.26 h1.7 M44.2,471.37 h3.1 M44.2,465.49 h1.7 M44.2,459.6 h1.7 M44.2,453.71 h1.7 M44.2,447.83 h1.7 M44.2,441.94 h3.1 M44.2,436.06 h1.7 M44.2,430.17 h1.7 M44.2,424.29 h1.7 M44.2,418.4 h1.7 M44.2,412.51 h3.1 M44.2,406.63 h1.7 M44.2,400.74 h1.7 M44.2,394.86 h1.7 M44.2,388.97 h1.7 M44.2,383.09 h3.1 M44.2,377.2 h1.7 M44.2,371.31 h1.7 M44.2,365.43 h1.7 M44.2,359.54 h1.7 M44.2,353.66 h3.1 M44.2,347.77 h1.7 M44.2,341.89 h1.7 M44.2,336 h1.7 M44.2,330.11 h1.7 M44.2,324.23 h3.1 M44.2,318.34 h1.7 M44.2,312.46 h1.7 M44.2,306.57 h1.7 M44.2,300.69 h1.7 M44.2,294.8 h3.1" stroke="#000" stroke-width="1" fill="none"/>
<path d="M307.3,500.8 h-3.1 M307.3,496.22 h-1.7 M307.3,491.64 h-1.7 M307.3,487.07 h-1.7 M307.3,482.49 h-1.7 M307.3,477.91 h-3.1 M307.3,473.33 h-1.7 M307.3,468.76 h-1.7 M307.3,464.18 h-1.7 M307.3,459.6 h-1.7 M307.3,455.02 h-3.1 M307.3,450.44 h-1.7 M307.3,445.87 h-1.7 M307.3,441.29 h-1.7 M307.3,436.71 h-1.7 M307.3,432.13 h-3.1 M307.3,427.56 h-1.7 M307.3,422.98 h-1.7 M307.3,418.4 h-1.7 M307.3,413.82 h-1.7 M307.3,409.24 h-3.1 M307.3,404.67 h-1.7 M307.3,400.09 h-1.7 M307.3,395.51 h-1.7 M307.3,390.93 h-1.7 M307.3,386.36 h-3.1 M307.3,381.78 h-1.7 M307.3,377.2 h-1.7 M307.3,372.62 h-1.7 M307.3,368.04 h-1.7 M307.3,363.47 h-3.1 M307.3,358.89 h-1.7 M307.3,354.31 h-1.7 M307.3,349.73 h-1.7 M307.3,345.16 h-1.7 M307.3,340.58 h-3.1 M307.3,336 h-1.7 M307.3,331.42 h-1.7 M307.3,326.84 h-1.7 M307.3,322.27 h-1.7 M307.3,317.69 h-3.1 M307.3,313.11 h-1.7 M307.3,308.53 h-1.7 M307.3,303.96 h-1.7 M307.3,299.38 h-1.7 M307.3,294.8 h-3.1" stroke="#c800c8" stroke-width="1" fill="none"/>
<path d="M307.3,294.8 V294.8 H44.2" stroke="#000" stroke-width="1.2" fill="none"/>
<path d="M44.2,294.8 V500.8 H307.3" stroke="#000" stroke-width="1.2" fill="none"/>
<path d="M307.3,294.2 V501.4" stroke="#c800c8" stroke-width="1.3" fill="none"/>
<text x="40" y="504.8" font-size="11" fill="#000" text-anchor="end">0</text>
<text x="40" y="475.37" font-size="11" fill="#000" text-anchor="end">100</text>
<text x="40" y="445.94" font-size="11" fill="#000" text-anchor="end">200</text>
<text x="40" y="416.51" font-size="11" fill="#000" text-anchor="end">300</text>
<text x="40" y="387.09" font-size="11" fill="#000" text-anchor="end">400</text>
<text x="40" y="357.66" font-size="11" fill="#000" text-anchor="end">500</text>
<text x="40" y="328.23" font-size="11" fill="#000" text-anchor="end">600</text>
<text x="40" y="298.8" font-size="11" fill="#000" text-anchor="end">700</text>
<text x="311.5" y="504.8" font-size="11" fill="#c800c8" text-anchor="start">1</text>
<text x="311.5" y="481.91" font-size="11" fill="#c800c8" text-anchor="start">2</text>
<text x="311.5" y="459.02" font-size="11" fill="#c800c8" text-anchor="start">3</text>
<text x="311.5" y="436.13" font-size="11" fill="#c800c8" text-anchor="start">4</text>
<text x="311.5" y="413.24" font-size="11" fill="#c800c8" text-anchor="start">5</text>
<text x="311.5" y="390.36" font-size="11" fill="#c800c8" text-anchor="start">6</text>
<text x="311.5" y="367.47" font-size="11" fill="#c800c8" text-anchor="start">7</text>
<text x="311.5" y="344.58" font-size="11" fill="#c800c8" text-anchor="start">8</text>
<text x="311.5" y="321.69" font-size="11" fill="#c800c8" text-anchor="start">9</text>
<text x="311.5" y="298.8" font-size="11" fill="#c800c8" text-anchor="start">10</text>
<text x="44.2" y="516" font-size="11" fill="#000" text-anchor="middle">0.5</text>
<text x="88.05" y="516" font-size="11" fill="#000" text-anchor="middle">0.6</text>
<text x="131.9" y="516" font-size="11" fill="#000" text-anchor="middle">0.7</text>
<text x="175.75" y="516" font-size="11" fill="#000" text-anchor="middle">0.8</text>
<text x="219.6" y="516" font-size="11" fill="#000" text-anchor="middle">0.9</text>
<text x="263.45" y="516" font-size="11" fill="#000" text-anchor="middle">1.0</text>
<text x="307.3" y="516" font-size="11" fill="#000" text-anchor="middle">1.1</text>
<text x="79.6" y="289.5" font-size="12" fill="#000" text-anchor="start" textLength="191" lengthAdjust="spacingAndGlyphs">t=5.4s, during n=1 RMP penetration</text>
<text transform="translate(12.7,418) rotate(-90)" font-size="12.5" fill="#000" stroke="#000" stroke-width="0.1">T<tspan font-size="8.5" dy="5.4" dx="1.1">e</tspan><tspan dy="-5.4"> (eV)</tspan></text>
<text transform="translate(336.6,398.3) rotate(-90)" font-size="11.5" fill="#c800c8" text-anchor="middle">q</text>
<text x="175.8" y="531.6" font-size="11.5" fill="#555" text-anchor="middle" font-family="Liberation Serif" font-style="italic">&#961;</text>
</svg>
</body></html>
